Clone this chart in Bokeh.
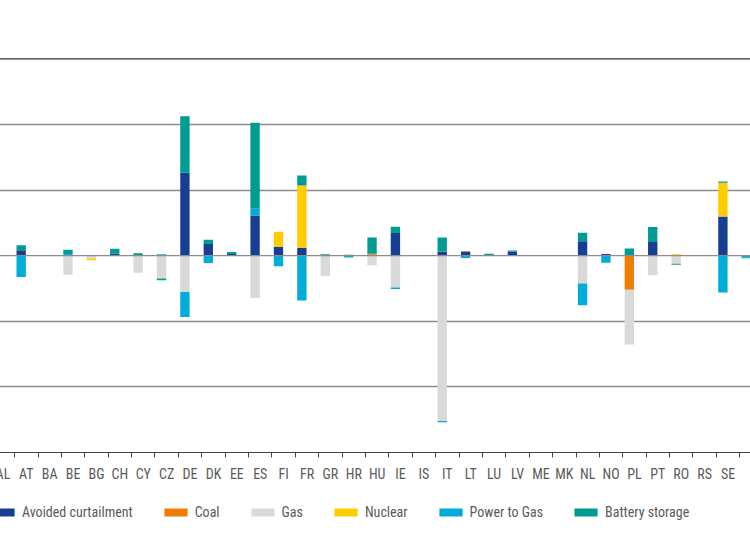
from bokeh.plotting import figure
from bokeh.layouts import column
from bokeh.models import Range1d, FixedTicker, Span, Legend, LegendItem, ColumnDataSource, Grid
from bokeh.transform import dodge
from bokeh.embed import file_html
from bokeh.resources import INLINE

countries = ["AL", "AT", "BA", "BE", "BG", "CH", "CY", "CZ", "DE", "DK", "EE", "ES",
             "FI", "FR", "GR", "HR", "HU", "IE", "IS", "IT", "LT", "LU", "LV", "ME",
             "MK", "NL", "NO", "PL", "PT", "RO", "RS", "SE", "SI"]

avoided_curtailment = [0.1, 0.81, 0, 0, 0, 0.3, 0, 0, 12.63, 1.77, 0.25, 6.13,
                       1.37, 1.22, 0, 0, 0.15, 3.45, 0, 0.65, 0.65, 0, 0.62, 0,
                       0, 2.18, 0.25, 0, 2.07, 0, 0.1, 5.98, 0.1]
coal = [0, 0, 0, 0, 0, 0, 0, 0, 0, 0, 0, 0,
        0, 0, 0, 0, 0.15, 0, 0, 0, 0, 0, 0, 0,
        0, 0, 0, -5.18, 0, 0, 0, 0, 0]
gas = [0, 0, 0, -2.9, -0.45, 0, -2.6, -3.5, -5.54, 0, 0, -6.45,
       0, 0, -3.1, 0, -1.45, -4.87, 0, -25.2, 0, 0, 0, 0,
       0, -4.26, 0, -8.37, -3.0, -1.22, 0, 0, 0]
nuclear = [0, 0, 0, 0, -0.25, 0, 0, 0, 0, 0, 0, 0,
           2.28, 9.48, 0, 0, 0, 0, 0, 0, 0, 0, 0, 0,
           0, 0, 0, 0, 0, 0.2, 0, 5.13, 0]
power_to_gas = [0, -3.26, 0, 0.25, 0, 0, 0, 0.2, -3.8, -1.12, 0, 1.02,
                -1.63, -6.85, 0, -0.3, 0, -0.2, 0, -0.2, -0.35, 0, 0, 0,
                0, -3.3, -1.07, 0, 0, 0, 0, -5.63, -0.3]
battery_storage = [0, 0.76, 0, 0.66, 0, 0.76, 0.35, -0.25, 8.62, 0.66, 0.3, 13.09,
                   0, 1.52, 0.2, 0.15, 2.48, 0.96, 0, 2.13, 0, 0.3, 0.15, 0,
                   0, 1.32, 0, 1.07, 2.28, -0.15, 0, 0.2, -0.1]

series_names = ["Avoided curtailment", "Coal", "Gas", "Nuclear", "Power to Gas", "Battery storage"]
colors = ["#163f94", "#f07d00", "#d9d9d9", "#ffcc00", "#00acd8", "#009b91"]
y_gridlines = [-20, -10, 10, 20]

series = [avoided_curtailment, coal, gas, nuclear, power_to_gas, battery_storage]
pos_keys = [f"pos{k}" for k in range(len(series))]
neg_keys = [f"neg{k}" for k in range(len(series))]
data = {"x": list(range(len(countries)))}
for k, s in enumerate(series):
    data[pos_keys[k]] = [max(v, 0) for v in s]
    data[neg_keys[k]] = [min(v, 0) for v in s]
src = ColumnDataSource(data)

FONT = "Roboto Condensed, Liberation Sans Narrow, DejaVu Sans Condensed, Roboto"
TXT = "#5a5a5a"
SHIFT = 34  # the chart is a crop: its left part lies outside the window
W = 750 + SHIFT

# ---------------- main chart ----------------
p = figure(width=W, height=485, frame_width=W, frame_height=397,
           x_range=Range1d(-1.558, 31.96), y_range=Range1d(-30, 30.5),
           output_backend="svg", toolbar_location=None, y_axis_location=None,
           min_border_left=0, min_border_right=0, min_border_top=55, min_border_bottom=33,
           outline_line_color=None)

p.center = [r for r in p.center if not isinstance(r, Grid)]
p.add_layout(Grid(dimension=1, ticker=FixedTicker(ticks=y_gridlines),
                  grid_line_color="#8c8c8c", grid_line_width=1.3), "center")

pos_r = p.vbar_stack(pos_keys, x=dodge("x", -0.22, range=p.x_range), width=0.4,
                     fill_color=colors, line_color=None, source=src)
neg_r = p.vbar_stack(neg_keys, x=dodge("x", -0.22, range=p.x_range), width=0.4,
                     fill_color=colors, line_color=None, source=src)

p.add_layout(Span(location=0, dimension="width", line_color="#8c8c8c", line_width=1.3))
p.add_layout(Span(location=30, dimension="width", line_color="#333333", line_width=1.3))

ax = p.xaxis[0]
ax.ticker = FixedTicker(ticks=data["x"], minor_ticks=[i + 0.5 for i in range(-2, len(countries))])
ax.major_label_overrides = {i: c for i, c in enumerate(countries)}
ax.major_tick_line_color = None
ax.major_tick_in = 0
ax.major_tick_out = 5
ax.minor_tick_in = 0
ax.minor_tick_out = 5
ax.minor_tick_line_color = "#444444"
ax.minor_tick_line_width = 1
ax.axis_line_color = "#444444"
ax.axis_line_width = 1.2
ax.major_label_standoff = 8
ax.major_label_text_font = FONT
ax.major_label_text_font_size = "14px"
ax.major_label_text_color = TXT

# ---------------- legend strip ----------------
q = figure(width=W, height=51, frame_width=W, frame_height=51,
           x_range=Range1d(-100, -99), y_range=Range1d(-100, -99),
           output_backend="svg", toolbar_location=None,
           x_axis_location=None, y_axis_location=None,
           min_border=0, outline_line_color=None)
q.center = [r for r in q.center if not isinstance(r, Grid)]
leg_r = q.vbar_stack(pos_keys, x="x", width=0.4, fill_color=colors, line_color=None, source=src)

legend = Legend(items=[LegendItem(label=n, renderers=[r]) for n, r in zip(series_names, leg_r)],
                orientation="horizontal", location=(22, 14),
                glyph_width=29, glyph_height=10, label_standoff=5, spacing=28,
                padding=0, margin=0, border_line_color=None, background_fill_alpha=0,
                label_text_font=FONT, label_text_font_size="14px", label_text_color=TXT,
                label_height=20)
q.add_layout(legend, "center")

layout = column(p, q, spacing=0, styles={"margin-left": f"-{SHIFT}px"})

open("out.html", "w").write(file_html(layout, INLINE))
